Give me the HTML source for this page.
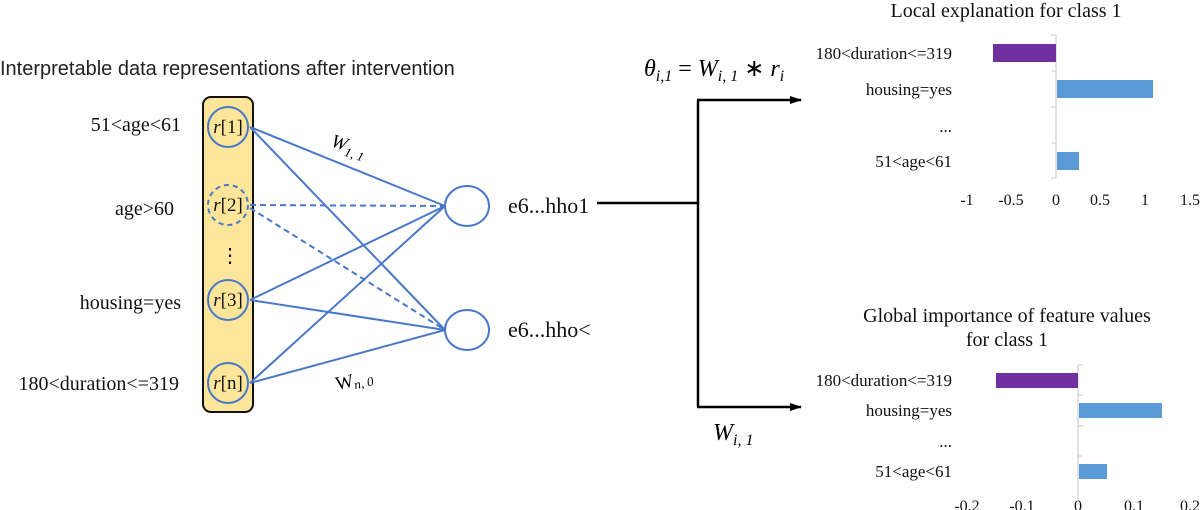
<!DOCTYPE html>
<html><head><meta charset="utf-8"><style>
html,body{margin:0;padding:0;background:#fff;}
svg{display:block;}
</style></head><body>
<svg width="1200" height="510" xmlns="http://www.w3.org/2000/svg">
<defs>
<marker id="ah" markerWidth="12" markerHeight="8" refX="11" refY="4" orient="auto" markerUnits="userSpaceOnUse"><path d="M0,0 L12,4 L0,8 z" fill="#000"/></marker>
</defs>
<text x="0" y="75" font-family="Liberation Sans, sans-serif" font-size="20" fill="#222">Interpretable data representations after intervention</text>
<rect x="203" y="97" width="50" height="315" rx="8" fill="#fde69a" stroke="#111" stroke-width="2"/>
<g fill="none" stroke="#4a78c8" stroke-width="2">
<ellipse cx="228" cy="127" rx="20" ry="20"/>
<ellipse cx="228" cy="205" rx="20" ry="20" stroke-dasharray="5,4"/>
<ellipse cx="228" cy="300" rx="20" ry="20"/>
<ellipse cx="228" cy="383" rx="20" ry="20"/>
<ellipse cx="467" cy="206" rx="22" ry="20"/>
<ellipse cx="467" cy="330" rx="22" ry="20"/>
<line x1="250" y1="127" x2="445" y2="206"/>
<line x1="250" y1="127" x2="445" y2="330"/>
<line x1="250" y1="205" x2="445" y2="206" stroke-dasharray="6,4"/>
<line x1="250" y1="208" x2="445" y2="330" stroke-dasharray="6,4"/>
<line x1="250" y1="300" x2="445" y2="206"/>
<line x1="250" y1="300" x2="445" y2="330"/>
<line x1="250" y1="383" x2="445" y2="206"/>
<line x1="250" y1="383" x2="445" y2="330"/>
</g>
<g font-family="Liberation Serif, serif" font-size="19" fill="#111" font-style="italic" text-anchor="middle">
<text x="228" y="133"><tspan>r</tspan><tspan font-style="normal">[1]</tspan></text>
<text x="228" y="211"><tspan>r</tspan><tspan font-style="normal">[2]</tspan></text>
<text x="228" y="306"><tspan>r</tspan><tspan font-style="normal">[3]</tspan></text>
<text x="228" y="389"><tspan>r</tspan><tspan font-style="normal">[n]</tspan></text>
</g>
<text x="230" y="262" font-family="Liberation Serif, serif" font-size="20" text-anchor="middle">⋮</text>
<g font-family="Liberation Serif, serif" font-size="20" fill="#111" text-anchor="end">
<text x="181" y="131">51&lt;age&lt;61</text>
<text x="174" y="215">age&gt;60</text>
<text x="181" y="309">housing=yes</text>
<text x="179" y="390">180&lt;duration&lt;=319</text>
</g>
<text x="330" y="146" font-family="Liberation Serif, serif" font-size="19" font-style="italic" transform="rotate(18 330 146)">W<tspan font-size="13" dy="5">1, 1</tspan></text>
<text x="337" y="390" font-family="Liberation Serif, serif" font-size="19" transform="rotate(-12 337 390)">W<tspan font-size="13" dy="3" font-style="italic">n, 0</tspan></text>
<g font-family="Liberation Serif, serif" font-size="22" fill="#111">
<text x="508" y="213">e6...hho1</text>
<text x="508" y="337">e6...hho&lt;</text>
</g>
<g stroke="#000" stroke-width="2.5" fill="none">
<line x1="597" y1="203" x2="699" y2="203"/>
<line x1="698" y1="100" x2="698" y2="407"/>
<line x1="697" y1="100" x2="801" y2="100" marker-end="url(#ah)"/>
<line x1="697" y1="407" x2="801" y2="407" marker-end="url(#ah)"/>
</g>
<text x="644" y="76" font-family="Liberation Serif, serif" font-size="24" font-style="italic">θ<tspan font-size="16" dy="5">i,1</tspan><tspan dy="-5" font-style="normal"> = </tspan>W<tspan font-size="16" dy="5">i, 1</tspan><tspan dy="-5" font-style="normal"> ∗ </tspan>r<tspan font-size="16" dy="5">i</tspan></text>
<text x="713" y="440" font-family="Liberation Serif, serif" font-size="24" font-style="italic">W<tspan font-size="16" dy="5">i, 1</tspan></text>
<!-- top chart -->
<g font-family="Liberation Serif, serif" fill="#111">
<text x="1006" y="17" font-size="20" text-anchor="middle">Local explanation for class 1</text>
<g font-size="17" text-anchor="end">
<text x="952" y="59">180&lt;duration&lt;=319</text>
<text x="952" y="95">housing=yes</text>
<text x="952" y="132">...</text>
<text x="952" y="167">51&lt;age&lt;61</text>
</g>
<g font-size="16" text-anchor="middle">
<text x="967" y="205">-1</text><text x="1011" y="205">-0.5</text><text x="1056" y="205">0</text><text x="1100" y="205">0.5</text><text x="1145" y="205">1</text><text x="1190" y="205">1.5</text>
</g>
</g>
<g stroke="#d9d9d9" stroke-width="1.5">
<line x1="1056" y1="35" x2="1056" y2="178"/>
<line x1="1051" y1="35" x2="1056" y2="35"/><line x1="1051" y1="71" x2="1056" y2="71"/><line x1="1051" y1="107" x2="1056" y2="107"/><line x1="1051" y1="143" x2="1056" y2="143"/><line x1="1051" y1="178" x2="1056" y2="178"/>
</g>
<rect x="993" y="44" width="63" height="18" fill="#7030a0"/>
<rect x="1057" y="80" width="96" height="18" fill="#5b9bd5"/>
<rect x="1057" y="152" width="22" height="18" fill="#5b9bd5"/>
<!-- bottom chart -->
<g font-family="Liberation Serif, serif" fill="#111">
<text x="1007" y="322" font-size="20" text-anchor="middle">Global importance of feature values</text>
<text x="1007" y="346" font-size="20" text-anchor="middle">for class 1</text>
<g font-size="17" text-anchor="end">
<text x="952" y="386">180&lt;duration&lt;=319</text>
<text x="952" y="416">housing=yes</text>
<text x="952" y="447">...</text>
<text x="952" y="477">51&lt;age&lt;61</text>
</g>
<g font-size="16" text-anchor="middle">
<text x="967" y="511">-0.2</text><text x="1022" y="511">-0.1</text><text x="1078" y="511">0</text><text x="1134" y="511">0.1</text><text x="1190" y="511">0.2</text>
</g>
</g>
<g stroke="#d9d9d9" stroke-width="1.5">
<line x1="1078" y1="365" x2="1078" y2="500"/>
<line x1="1078" y1="365" x2="1083" y2="365"/><line x1="1078" y1="395" x2="1083" y2="395"/><line x1="1078" y1="426" x2="1083" y2="426"/><line x1="1078" y1="456" x2="1083" y2="456"/>
</g>
<rect x="996" y="373" width="82" height="15" fill="#7030a0"/>
<rect x="1079" y="403" width="83" height="15" fill="#5b9bd5"/>
<rect x="1079" y="464" width="28" height="15" fill="#5b9bd5"/>
</svg>
</body></html>
